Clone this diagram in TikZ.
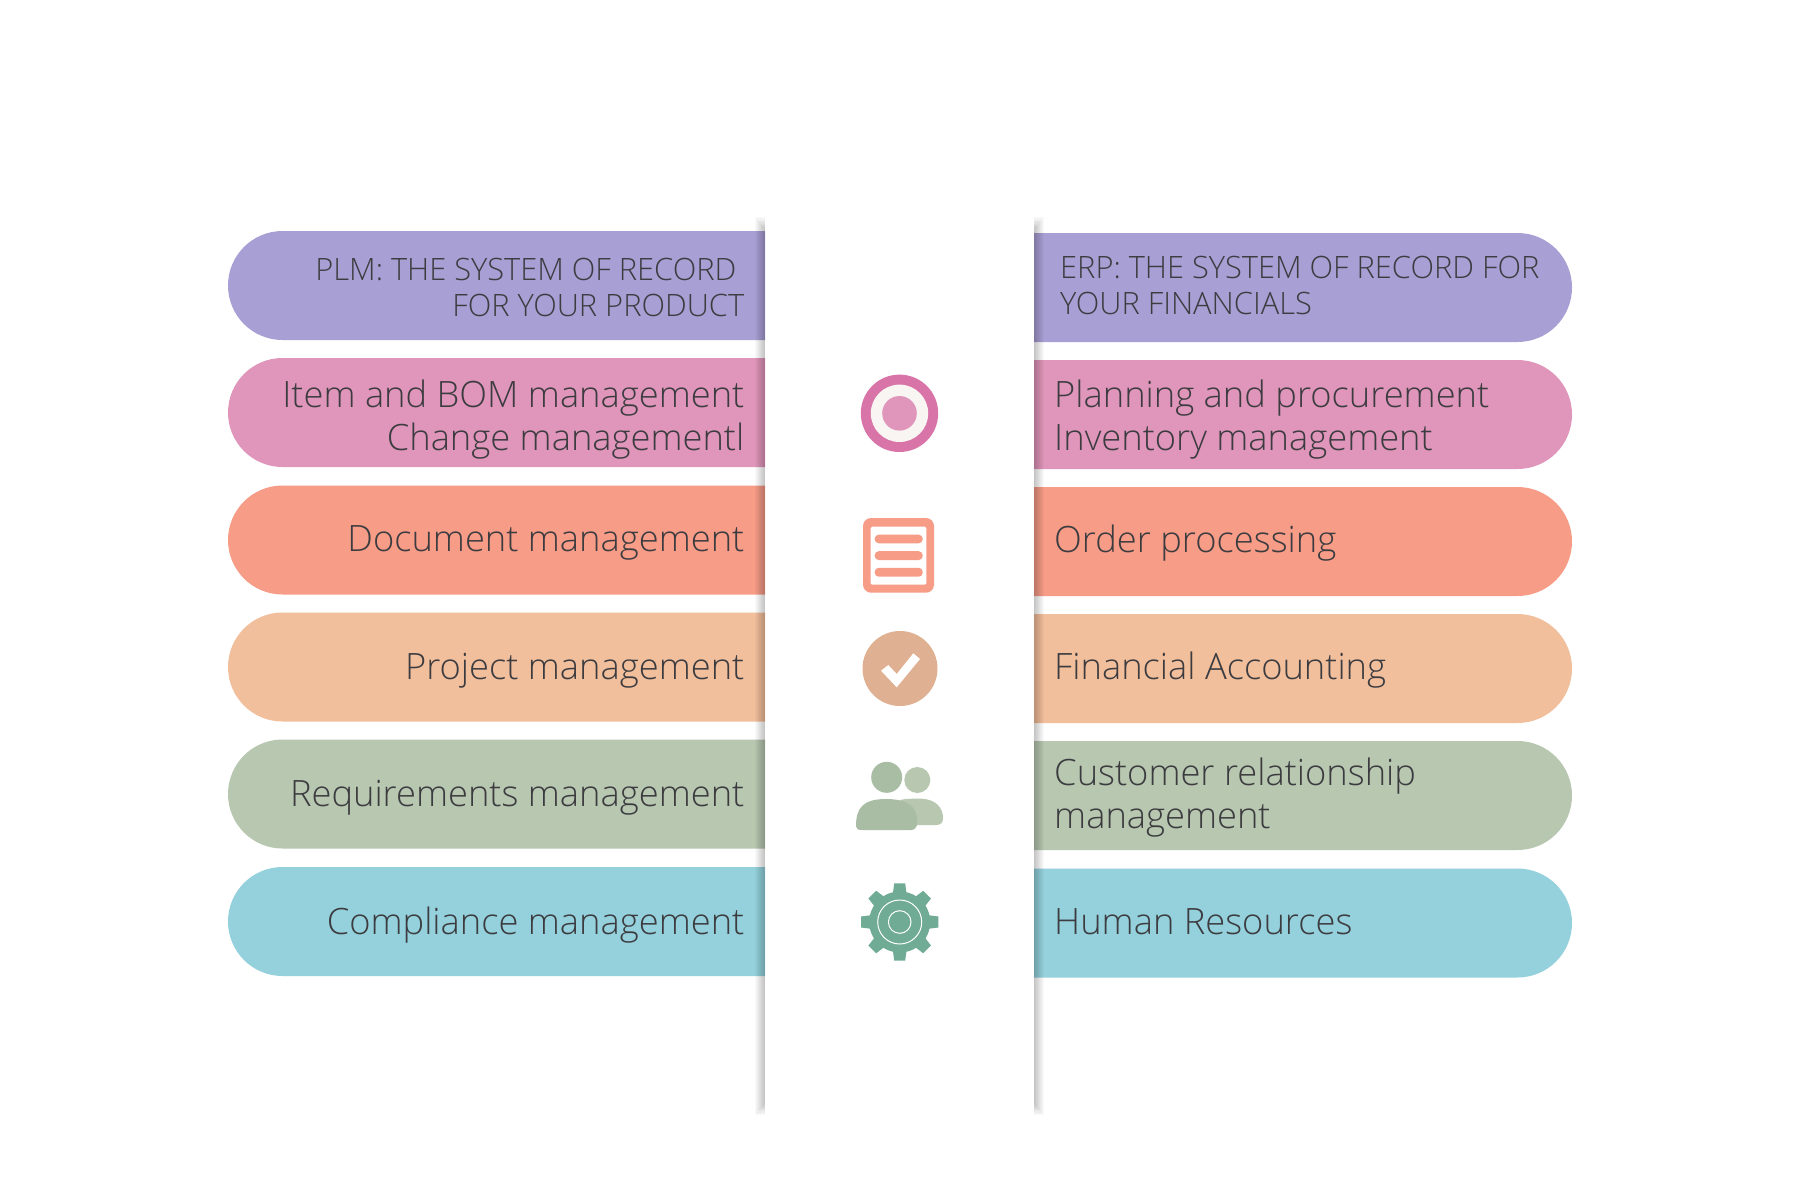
\documentclass[tikz,border=0pt]{standalone}
\usepackage{fontspec}
\setmainfont{Open Sans Light}
\definecolor{cpurple}{HTML}{A89FD4}
\definecolor{cpink}{HTML}{E096BA}
\definecolor{csalmon}{HTML}{F69C87}
\definecolor{cpeach}{HTML}{F2BF9C}
\definecolor{cgreen}{HTML}{B7C7B0}
\definecolor{cblue}{HTML}{95D1DC}
\definecolor{ctext}{HTML}{3C3C40}
\definecolor{cpinkd}{HTML}{D874A7}
\definecolor{coff}{HTML}{F8F5F2}
\definecolor{ctan}{HTML}{DFB091}
\definecolor{cgreend}{HTML}{A9BCA4}
\definecolor{cgear}{HTML}{6FAB95}
\tikzset{
  x=1pt,y=-1pt,
  bodyl/.style={anchor=east,align=right,text=ctext,inner sep=0pt,font=\fontsize{36.3}{42.4}\selectfont},
  bodyr/.style={anchor=west,align=left,text=ctext,inner sep=0pt,font=\fontsize{36.3}{42.4}\selectfont},
  headl/.style={anchor=east,align=right,text=ctext,inner sep=0pt,font=\fontsize{30.8}{36}\selectfont},
  headr/.style={anchor=west,align=left,text=ctext,inner sep=0pt,font=\fontsize{30.8}{36}\selectfont},
  edgeshade/.style={fill=black,opacity=.022}
}
\newcommand{\leftpill}[2]{\fill[#2] (765,#1) -- (282.5,#1) arc[start angle=90,end angle=270,radius=54.5pt] -- (765,#1+109) -- cycle;}
\newcommand{\rightpill}[2]{\fill[#2] (1034,#1) -- (1517.5,#1) arc[start angle=90,end angle=-90,radius=54.5pt] -- (1034,#1+109) -- cycle;}
\begin{document}
\begin{tikzpicture}
\useasboundingbox (0,0) rectangle (1800,1200);
\fill[white] (0,0) rectangle (1800,1200);
% left pills
\leftpill{231}{cpurple}
\leftpill{358}{cpink}
\leftpill{485.5}{csalmon}
\leftpill{612.5}{cpeach}
\leftpill{739.5}{cgreen}
\leftpill{867}{cblue}
% right pills
\rightpill{233}{cpurple}
\rightpill{360}{cpink}
\rightpill{487}{csalmon}
\rightpill{614}{cpeach}
\rightpill{741}{cgreen}
\rightpill{868.5}{cblue}
% edge shadows
\foreach \i in {1,...,10}{
  \fill[edgeshade] (765-\i,1103+1.2*\i) rectangle (765,230-1.3*\i);
  \fill[edgeshade] (1034,1103+1.2*\i) rectangle (1034+\i,230-1.3*\i);
}
% left texts
\node[headl] (l0) at (744.5,291.2) {\strut PLM: THE SYSTEM OF RECORD\hspace*{8pt}\\FOR YOUR PRODUCT\strut};
\node[bodyl] (l1) at (744.5,420.6) {\strut Item and BOM management\\Change managementl\strut};
\node[bodyl] (l2) at (744.5,542.6) {\strut Document management\strut};
\node[bodyl] (l3) at (744.5,670.6) {\strut Project management\strut};
\node[bodyl] (l4) at (744.5,797.6) {\strut Requirements management\strut};
\node[bodyl] (l5) at (744.5,925.6) {\strut Compliance management\strut};
% right texts
\node[headr] (r0) at (1060,289.2) {\strut ERP: THE SYSTEM OF RECORD FOR\\YOUR FINANCIALS\strut};
\node[bodyr] (r1) at (1054,420.6) {\strut Planning and procurement\\Inventory management\strut};
\node[bodyr] (r2) at (1054,544.2) {\strut Order processing\strut};
\node[bodyr] (r3) at (1054,670.6) {\strut Financial Accounting\strut};
\node[bodyr] (r4) at (1054,798.6) {\strut Customer relationship\\management\strut};
\node[bodyr] (r5) at (1054,925.6) {\strut Human Resources\strut};
% target icon
\fill[cpinkd] (899.5,413.3) circle[radius=38.7];
\fill[coff] (899.5,413.3) circle[radius=28.7];
\fill[cpink] (899.5,413.3) circle[radius=17.3];
% document icon
\fill[csalmon,rounded corners=8pt] (863,518) rectangle (934,592.7);
\fill[white,rounded corners=1.5pt] (870.7,526.7) rectangle (926.3,584.7);
\fill[csalmon,rounded corners=4pt] (874.7,534.7) rectangle (922.7,543.3);
\fill[csalmon,rounded corners=4pt] (874.7,551.2) rectangle (922.7,560);
\fill[csalmon,rounded corners=4pt] (874.7,567.8) rectangle (922.7,576.7);
% check icon
\fill[ctan] (900,668.5) circle[radius=37.5];
\fill[white] (881,670.7) -- (888.3,665) -- (896.7,674) -- (913.3,653.3) -- (920,659) -- (896.7,687.3) -- cycle;
% people icon
\fill[cgreen] (917.3,780) circle[radius=13];
\fill[cgreen] (900,800) .. controls (905,798.7) and (915,798.5) .. (922,798.7) .. controls (935,799.5) and (943,807) .. (943,818) .. controls (943,822.5) and (941,825) .. (936,825) -- (900,825) -- cycle;
\fill[cgreend] (886.7,777.3) circle[radius=15.5];
\fill[cgreend] (856,826) .. controls (856,808) and (863,799) .. (886,799) .. controls (908,799) and (917.3,807) .. (917.3,822) .. controls (917.3,828) and (914,830) .. (911,830) -- (862,830) .. controls (858,830) and (856,829) .. (856,826) -- cycle;
% gear icon
\begin{scope}[shift={(899.7,922)}]
\fill[cgear] circle[radius=30.5];
\foreach \a in {0,45,...,315}{
  \fill[cgear,rotate=\a] (27,-7) -- (38.7,-5.5) -- (38.7,5.5) -- (27,7) -- cycle;
}
\draw[white,line width=1pt] circle[radius=22];
\draw[white,line width=1pt] circle[radius=11.3];
\end{scope}
\end{tikzpicture}
\end{document}
